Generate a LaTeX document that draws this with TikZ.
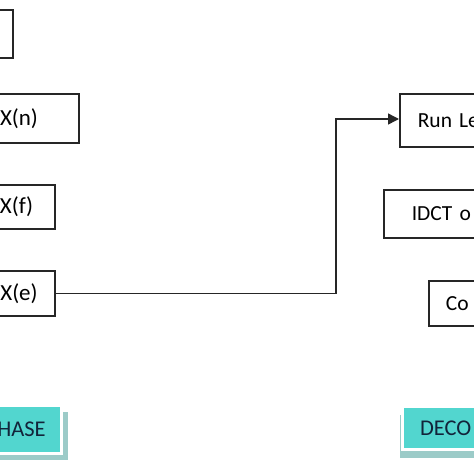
\documentclass[tikz,border=0pt]{standalone}
\usepackage{fontspec}
\setmainfont{Carlito}
\usetikzlibrary{arrows.meta,shadows}
\definecolor{phaseteal}{HTML}{52D6CF}
\definecolor{phaseshadow}{HTML}{9CCBC8}
\definecolor{phaseink}{HTML}{12243A}
\tikzset{
  blockbox/.style={draw=black!85, line width=1.6pt, rectangle, inner sep=0pt,
    font=\fontsize{23}{27}\selectfont},
  rightbox/.style={blockbox, anchor=west, text width=200pt, align=left, inner xsep=#1,
    font=\fontsize{21.5}{26}\selectfont},
  phasebox/.style={fill=phaseteal, draw=white, line width=3pt, rectangle, inner sep=0pt,
    text=phaseink, font=\fontsize{22.5}{27}\selectfont},
  flow/.style={line width=1.5pt, draw=black!85, -{Triangle[length=11pt,width=11pt]}}
}
\begin{document}
\begin{tikzpicture}[x=1pt,y=-1pt]
  \useasboundingbox (0,0) rectangle (474,474);
  \node[blockbox, minimum width=66pt, minimum height=48pt] (top) at (-20,34) {};
  \node[blockbox, minimum width=120pt, minimum height=49pt] (xn) at (19,118.5) {X(n)};
  \node[blockbox, minimum width=77pt, minimum height=44pt] (xf) at (16.5,207) {X(f)};
  \node[blockbox, minimum width=72pt, minimum height=45pt] (xe) at (19,293.5) {X(e)};
  \node[rightbox=18pt, minimum height=53pt] (rl) at (399,120.5) {Run Le};
  \node[rightbox=28pt, minimum height=48pt] (idct) at (383,214) {IDCT o};
  \node[rightbox=17pt, minimum height=45pt] (co) at (428,303.5) {Co};
  \node[phasebox, minimum width=80pt, minimum height=48pt,
    general shadow={shadow xshift=6pt, shadow yshift=-6.5pt, fill=phaseshadow}]
    (enc) at (21.5,429.5) {HASE};
  \node[phasebox, anchor=west, text width=200pt, align=left, inner xsep=18pt, minimum height=43pt,
    general shadow={shadow xshift=-2pt, shadow yshift=-8pt, fill=phaseshadow}]
    (dec) at (400.5,428) {DECO};
  \coordinate (bend) at (336,119);
  \draw[flow] (xe.east) -- (xe.east -| bend) -- (bend) -- (bend -| rl.west);
\end{tikzpicture}
\end{document}
